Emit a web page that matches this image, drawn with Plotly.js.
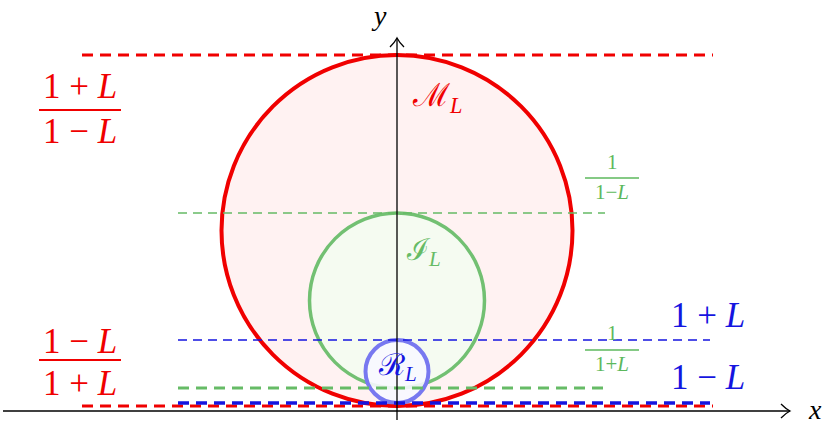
<!DOCTYPE html>
<html>
<head>
<meta charset="utf-8">
<script src="https://cdn.plot.ly/plotly-3.0.1.min.js"></script>
<style>html,body{margin:0;padding:0;background:#fff;}#plot{width:823px;height:424px;}</style>
</head>
<body>
<div id="plot"></div>
<script>
// Diagram data (schematic units: origin at the axes crossing)
const regionNames = ['M', 'I', 'R'];
const regionLabels = ['\u2133<sub><i>L</i></sub>', '\u2110<sub><i>L</i></sub>', '\u211B<sub><i>L</i></sub>'];
const regionLower = [5, 23, 8];      // lower tangent level of each region
const regionUpper = [356, 198, 71];  // upper tangent level of each region
const levelLeft = [-315, -219, -219];
const levelRight = [316, 208, 313];
const upperLevelText = ['1 + <i>L</i>|1 \u2212 <i>L</i>', '1|1\u2212<i>L</i>', '1 + <i>L</i>'];
const lowerLevelText = ['1 \u2212 <i>L</i>|1 + <i>L</i>', '1|1+<i>L</i>', '1 \u2212 <i>L</i>'];

const lineCol = ['#f00000', '#66bb66', '#1515e0'];
const ringCol = ['#f00000', '#72c072', '#7878f0'];
const fillCol = ['rgba(255,0,0,0.05)', 'rgb(245,251,241)', 'rgba(248,248,255,0.9)'];
const upperW = [3, 1.5, 1.5];
const lowerW = [3, 3, 3.5];

const shapes = [];
const ann = [];
const serif = 'Liberation Serif, DejaVu Serif, serif';

// circles
for (let i = 0; i < regionNames.length; i++) {
  const r = (regionUpper[i] - regionLower[i]) / 2;
  shapes.push({type: 'circle', xref: 'x', yref: 'y', x0: -r, x1: r, y0: regionLower[i], y1: regionUpper[i],
    fillcolor: fillCol[i], line: {color: ringCol[i], width: i === 0 ? 4 : (i === 1 ? 3.5 : 4)}, layer: 'above'});
}
// dashed levels
for (let i = 0; i < regionNames.length; i++) {
  const dThin = '9px,6px', dThick = '11px,7px';
  shapes.push({type: 'line', x0: levelLeft[i], x1: levelRight[i], y0: regionUpper[i], y1: regionUpper[i],
    line: {color: lineCol[i], width: upperW[i], dash: upperW[i] > 2 ? dThick : dThin}, layer: 'above'});
  shapes.push({type: 'line', x0: levelLeft[i], x1: levelRight[i], y0: regionLower[i], y1: regionLower[i],
    line: {color: lineCol[i], width: lowerW[i], dash: dThick}, layer: 'above'});
}
// axes
shapes.push({type: 'line', x0: -394, x1: 393, y0: 0, y1: 0, line: {color: '#000', width: 1.3}, layer: 'above'});
shapes.push({type: 'line', x0: 0, x1: 0, y0: -9, y1: 373, line: {color: '#000', width: 1.3}, layer: 'above'});
shapes.push({type: 'path', path: 'M 384 7 Q 389 2 393 0 Q 389 -2 384 -7', line: {color: '#000', width: 1.3}, layer: 'above'});
shapes.push({type: 'path', path: 'M -7 364 Q -2 369 0 373 Q 2 369 7 364', line: {color: '#000', width: 1.3}, layer: 'above'});

// region labels
const regLabelPos = [[40, 314, 32], [26, 159, 30], [0, 44, 30]];
for (let i = 0; i < regionNames.length; i++) {
  ann.push({x: regLabelPos[i][0], y: regLabelPos[i][1], text: regionLabels[i], showarrow: false,
    font: {family: serif, size: regLabelPos[i][2], color: i === 2 ? '#1515e0' : lineCol[i]}, xanchor: 'center', yanchor: 'middle'});
}

// fraction helper
function frac(text, cx, yNum, yBar, yDen, half, size, color, barW) {
  const p = text.split('|');
  ann.push({x: cx, y: yNum, text: p[0], showarrow: false, font: {family: serif, size: size, color: color}, xanchor: 'center', yanchor: 'middle'});
  ann.push({x: cx, y: yDen, text: p[1], showarrow: false, font: {family: serif, size: size, color: color}, xanchor: 'center', yanchor: 'middle'});
  shapes.push({type: 'line', x0: cx - half, x1: cx + half, y0: yBar, y1: yBar, line: {color: color, width: barW}, layer: 'above'});
}
// red level labels
frac(upperLevelText[0], -317, 325, 301, 280, 41, 35, lineCol[0], 2);
frac(lowerLevelText[0], -317, 70, 51, 28, 41, 35, lineCol[0], 2);
// green level labels
frac(upperLevelText[1], 215, 249, 233, 219, 27, 21, '#5cb85c', 1.3);
frac(lowerLevelText[1], 215, 78, 61, 47, 27, 21, '#5cb85c', 1.3);
// blue level labels
ann.push({x: 311, y: 96, text: upperLevelText[2], showarrow: false, font: {family: serif, size: 35, color: lineCol[2]}, xanchor: 'center', yanchor: 'middle'});
ann.push({x: 311, y: 34, text: lowerLevelText[2], showarrow: false, font: {family: serif, size: 35, color: lineCol[2]}, xanchor: 'center', yanchor: 'middle'});
// axis names
ann.push({x: -18, y: 396, text: '<i>y</i>', showarrow: false, font: {family: serif, size: 28, color: '#000'}, xanchor: 'center', yanchor: 'middle'});
ann.push({x: 418, y: 2, text: '<i>x</i>', showarrow: false, font: {family: serif, size: 28, color: '#000'}, xanchor: 'center', yanchor: 'middle'});

const layout = {
  width: 823, height: 424,
  margin: {l: 0, r: 0, t: 0, b: 0},
  paper_bgcolor: '#fff', plot_bgcolor: '#fff',
  xaxis: {range: [-397, 426], visible: false, fixedrange: true},
  yaxis: {range: [-13, 411], visible: false, fixedrange: true},
  showlegend: false,
  shapes: shapes,
  annotations: ann
};
Plotly.newPlot('plot', [{x: [0], y: [0], mode: 'markers', marker: {opacity: 0}, hoverinfo: 'skip'}], layout, {staticPlot: true, displayModeBar: false});
</script>
</body>
</html>
